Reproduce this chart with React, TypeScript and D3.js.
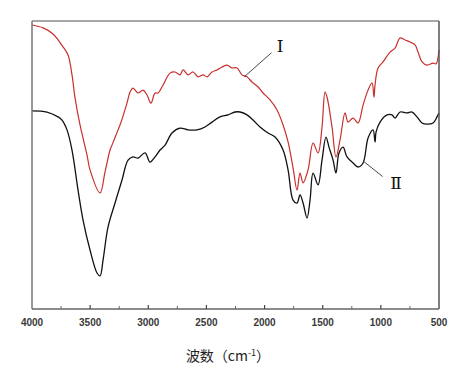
import React from "react";
import * as d3 from "d3";

const redWn = [4000,3905,3819,3733,3690,3656,3630,3587,3527,3501,3415,3372,3329,3312,3260,3243,3183,3157,3131,3088,3045,3011,2977,2942,2916,2873,2813,2770,2727,2701,2658,2615,2572,2529,2495,2452,2409,2366,2323,2280,2237,2194,2151,2108,2056,2013,1953,1893,1841,1798,1755,1721,1695,1669,1626,1583,1540,1506,1480,1463,1420,1386,1351,1308,1282,1239,1196,1153,1110,1076,1059,1050,1024,981,921,878,835,792,749,706,680,646,603,551,526,500];
const redT = [98.6,97.6,95.5,91.0,88.2,81.3,73.3,63.9,53.5,48.3,40.3,47.6,55.2,56.9,62.2,63.9,71.5,75.3,76.7,75.0,76.0,74.3,71.5,75.0,75.0,77.8,81.9,82.3,81.3,83.0,81.3,82.3,80.6,81.3,80.6,82.3,83.0,84.0,84.7,83.7,83.7,81.3,80.6,78.8,77.1,75.0,72.6,69.1,63.9,58.0,49.0,41.3,47.2,43.8,48.3,57.6,54.2,63.2,75.3,73.6,63.2,52.8,58.7,68.1,64.9,66.3,64.6,70.8,76.0,78.5,73.6,77.8,83.7,85.8,89.2,90.6,94.1,93.4,92.7,91.7,89.2,85.8,84.7,85.4,85.1,89.9];

const blackWn = [4000,3871,3776,3742,3699,3656,3604,3561,3501,3441,3415,3389,3346,3286,3226,3174,3131,3088,3028,2985,2942,2899,2856,2796,2727,2658,2581,2512,2452,2383,2314,2254,2211,2151,2099,2039,1970,1910,1841,1798,1755,1721,1695,1669,1635,1609,1583,1540,1506,1472,1446,1411,1386,1360,1325,1291,1239,1196,1153,1110,1067,1050,1041,1007,947,904,878,835,775,732,689,646,603,551,517,500];
const blackT = [68.8,68.4,66.7,65.6,62.2,55.2,41.3,30.9,20.5,12.5,11.5,17.0,28.5,36.8,44.8,51.7,52.8,52.4,54.2,51.0,52.8,55.2,56.9,61.1,62.8,62.2,62.2,63.2,64.9,66.7,67.4,68.4,68.4,67.4,65.6,63.2,61.1,59.7,55.2,48.3,37.8,36.8,39.6,36.8,31.6,37.8,47.2,43.1,51.7,59.7,56.2,51.7,47.2,54.2,56.2,52.8,50.7,49.3,50.7,59.4,62.2,58.0,61.5,64.9,67.4,67.4,66.3,68.4,68.1,68.4,66.7,64.6,64.2,64.6,66.7,68.1];

const majorTicks = [4000,3500,3000,2500,2000,1500,1000,500];
const minorTicks = [3750,3250,2750,2250,1750,1250,750];

export default function App() {
  const left = 32, right = 439, top = 21, bottom = 309;
  const x = d3.scaleLinear().domain([4000, 500]).range([left, right]);
  const y = d3.scaleLinear().domain([0, 100]).range([bottom, top]);
  const line = d3.line<[number, number]>().x(d => x(d[0])).y(d => y(d[1])).curve(d3.curveCatmullRom.alpha(0.5));
  const red = redWn.map((w, i) => [w, redT[i]] as [number, number]);
  const black = blackWn.map((w, i) => [w, blackT[i]] as [number, number]);
  return (
    <svg width={474} height={375} style={{ position: "absolute", left: 0, top: 0, background: "#fff" }}>
      <rect x={0} y={0} width={474} height={375} fill="#fff" />
      <path d={line(red) || ""} fill="none" stroke="#c8302e" strokeWidth={1.2} />
      <path d={line(black) || ""} fill="none" stroke="#111" strokeWidth={1.3} />
      <line x1={left} y1={top} x2={right} y2={top} stroke="#8a8a8a" strokeWidth={1.5} />
      <line x1={left} y1={top} x2={left} y2={bottom} stroke="#777" strokeWidth={1.5} />
      <line x1={right} y1={top} x2={right} y2={bottom} stroke="#555" strokeWidth={1.5} />
      <line x1={left} y1={bottom} x2={right} y2={bottom} stroke="#666" strokeWidth={1.5} />
      {majorTicks.slice(1, -1).map(t => (
        <line key={"M" + t} x1={x(t)} x2={x(t)} y1={bottom} y2={bottom - 4} stroke="#444" strokeWidth={1.2} />
      ))}
      {minorTicks.map(t => (
        <line key={"m" + t} x1={x(t)} x2={x(t)} y1={bottom} y2={bottom - 3} stroke="#666" strokeWidth={1} />
      ))}
      {majorTicks.map(t => (
        <text key={"t" + t} x={x(t)} y={326} textAnchor="middle" fontFamily="Liberation Sans, Arial, sans-serif" fontSize={10} fontWeight="bold" fill="#3a3a3a">{t}</text>
      ))}
      <line x1={x(2175)} y1={y(80.6)} x2={x(1940)} y2={y(89)} stroke="#333" strokeWidth={0.9} />
      <text x={280} y={52} textAnchor="middle" fontFamily="DejaVu Serif, Liberation Serif, serif" fontSize={17} fill="#111">Ⅰ</text>
      <line x1={x(1153)} y1={y(51.4)} x2={x(985)} y2={y(46)} stroke="#333" strokeWidth={0.9} />
      <text x={396} y={189} textAnchor="middle" fontFamily="DejaVu Serif, Liberation Serif, serif" fontSize={17} fill="#111">Ⅱ</text>
      <text x={228} y={361} textAnchor="middle" fontFamily="Noto Sans CJK SC, serif" fontSize={14} fill="#222">波数（cm<tspan dy={-5} fontSize={9}>-1</tspan><tspan dy={5}>）</tspan></text>
    </svg>
  );
}
